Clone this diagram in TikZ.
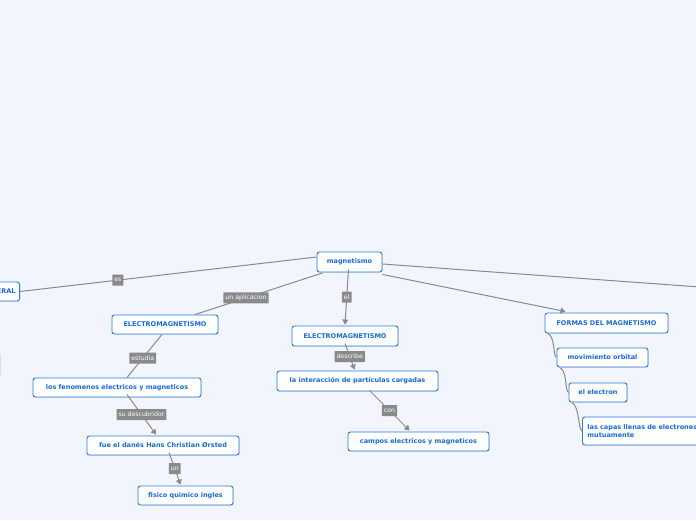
\documentclass[tikz,border=0pt]{standalone}
\usepackage{fontspec}
\setmainfont{DejaVu Sans}
\usetikzlibrary{arrows.meta,shadows}
\definecolor{bg}{HTML}{F2F5FD}
\definecolor{nb}{HTML}{2A7AD8}
\definecolor{nt}{HTML}{1A6AD0}
\definecolor{lk}{HTML}{8A8A8A}
\tikzset{
 nd/.style={draw=nb,line width=0.9pt,rounded corners=2.5pt,fill=white,font=\bfseries\fontsize{6.5}{8.5}\selectfont,text=nt,inner sep=0pt,anchor=center,drop shadow={shadow xshift=0.6pt,shadow yshift=-0.6pt,opacity=0.25}},
 lbl/.style={fill=lk,text=white,font=\fontsize{6.2}{7}\selectfont,inner sep=2pt,minimum height=11pt,rounded corners=0.5pt},
 ln/.style={draw=lk,line width=1pt},
 ar/.style={ln,-{Triangle[width=6pt,length=5pt]}},
}
\begin{document}
\begin{tikzpicture}[x=1pt,y=-1pt]
\fill[bg] (0,0) rectangle (696,520);
\useasboundingbox (0,0) rectangle (696,520);
\clip (0,0) rectangle (696,520);
\node[nd,minimum width=65pt,minimum height=20pt] (mag) at (349.5,262) {magnetismo};
\node[nd,minimum width=80pt,minimum height=19pt,anchor=east,align=right,text width=72pt] (gen) at (20,291.5) {GENERAL};
\node[nd,minimum width=60pt,minimum height=26pt,anchor=east] (sl) at (0,365) {};
\node[nd,minimum width=106pt,minimum height=19pt] (e1) at (165,324.5) {ELECTROMAGNETISMO};
\node[nd,minimum width=168pt,minimum height=19pt] (fen) at (117,387.5) {los fenomenos electricos y magneticos};
\node[nd,minimum width=152pt,minimum height=19pt] (hans) at (163,445.5) {fue el danés Hans Christian Ørsted};
\node[nd,minimum width=95pt,minimum height=19pt] (fis) at (185.5,495.5) {fisico quimico ingles};
\node[nd,minimum width=106pt,minimum height=20pt] (e2) at (345,336) {ELECTROMAGNETISMO};
\node[nd,minimum width=161pt,minimum height=20pt] (int) at (357.5,381) {la interacción de partículas cargadas};
\node[nd,minimum width=141pt,minimum height=19pt] (cam) at (418.5,441.5) {campos electricos y magneticos};
\node[nd,minimum width=123pt,minimum height=20pt] (for) at (606.5,323) {FORMAS DEL MAGNETISMO};
\node[nd,minimum width=91pt,minimum height=19pt] (mov) at (602.5,357.5) {movimiento orbital};
\node[nd,minimum width=58pt,minimum height=19pt] (ele) at (598,392.5) {el electron};
\node[nd,minimum width=170pt,minimum height=28pt,anchor=west,align=left,text width=160pt] (cap) at (582,431) {las capas llenas de electrones se anulan\\mutuamente};
\coordinate (off) at (700,287);
% connectors
\draw[ln] ([yshift=5pt]mag.west) -- node[lbl,pos=0.67]{es} (gen.east);
\draw[ln] ([xshift=-27pt,yshift=-0.5pt]mag.south) -- node[lbl,pos=0.6]{un aplicacion} ([xshift=30pt]e1.north);
\draw[ar] ([xshift=-1pt,yshift=3pt]mag.south) -- node[lbl,pos=0.5]{el} ([yshift=1pt]e2.north);
\draw[ln] ([xshift=-3pt]e1.south) -- node[lbl,pos=0.55]{estudia} ([xshift=10pt]fen.north);
\draw[ar] ([xshift=10pt,yshift=3pt]fen.south) -- node[lbl,pos=0.5]{su descubridor} ([xshift=-7pt,yshift=1pt]hans.north);
\draw[ar] ([xshift=6pt,yshift=3pt]hans.south) -- node[lbl,pos=0.5]{un} ([xshift=-5pt,yshift=1pt]fis.north);
\draw[ar] ([yshift=3pt]e2.south) -- node[lbl,pos=0.5]{describe} ([xshift=-3pt,yshift=1pt]int.north);
\draw[ar] ([xshift=12pt,yshift=1pt]int.south) -- node[lbl,pos=0.5]{con} ([xshift=-9pt,yshift=1pt]cam.north);
\draw[ar] ([yshift=-2pt]mag.south east) -- ([xshift=-41pt,yshift=1pt]for.north);
\draw[ln] ([yshift=-2pt]mag.east) -- (off);
\draw[ln] ([xshift=3pt]for.south west) .. controls +(8,3) and +(-4,-2) .. (mov.west);
\draw[ln] ([xshift=3pt]mov.south west) .. controls +(8,3) and +(-4,-2) .. (ele.west);
\draw[ln] ([xshift=3pt]ele.south west) .. controls +(8,3) and +(-4,-2) .. (cap.west);
\end{tikzpicture}
\end{document}
